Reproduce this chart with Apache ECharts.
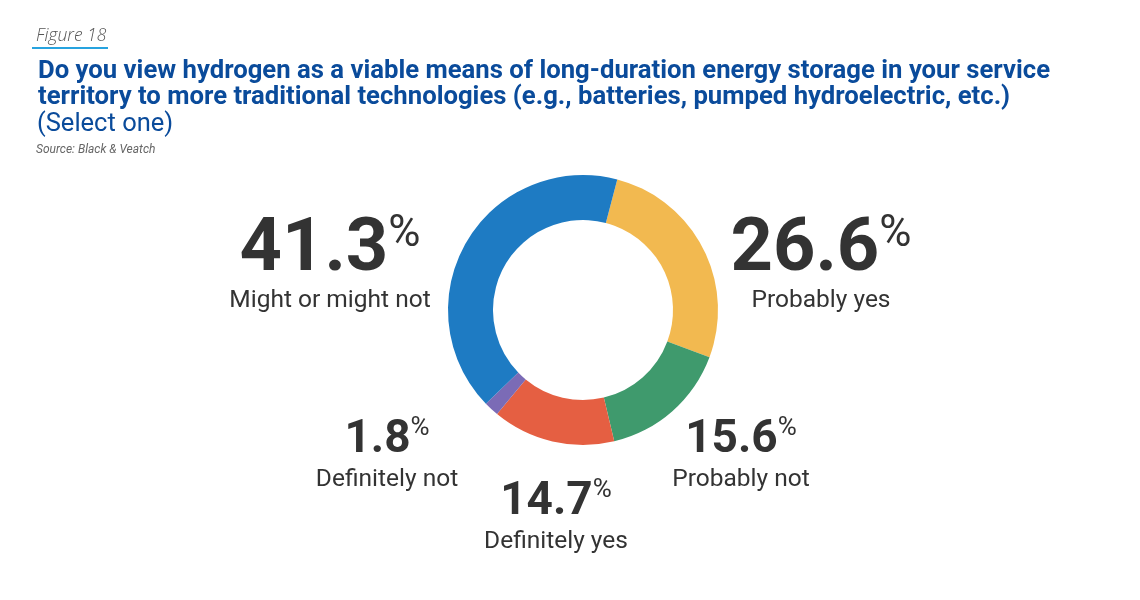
<!DOCTYPE html>
<html>
<head>
<meta charset="utf-8">
<script src="https://cdn.jsdelivr.net/npm/echarts@6/dist/echarts.min.js"></script>
<style>
html,body{margin:0;padding:0;background:#fff;}
#chart{width:1140px;height:600px;}
</style>
</head>
<body>
<div id="chart"></div>
<script>
// ---- data ----
const categories = ['Probably yes', 'Probably not', 'Definitely yes', 'Definitely not', 'Might or might not'];
const values = [26.6, 15.6, 14.7, 1.8, 41.3];
const sliceColors = ['#f2b950', '#3f9a6d', '#e55f42', '#7b6bb6', '#1e7bc3'];

const figureLabel = 'Figure 18';
const titleLines = [
  'Do you view hydrogen as a viable means of long-duration energy storage in your service',
  'territory to more traditional technologies (e.g., batteries, pumped hydroelectric, etc.)'
];
const subtitle = '(Select one)';
const sourceText = 'Source: Black & Veatch';

// ---- layout (positions / sizes kept apart from data) ----
const labelSpots = [[821, 213, 'L'], [741, 415, 'S'], [556, 477, 'S'], [387, 415, 'S'], [330, 213, 'L']];

const chart = echarts.init(document.getElementById('chart'), null, {renderer: 'canvas'});
const FONT = 'Roboto, "Noto Sans", sans-serif';

chart.setOption({
  backgroundColor: '#ffffff',
  animation: false,
  color: sliceColors,
  graphic: [
    {type: 'text', left: 36, top: 27, style: {text: figureLabel, font: 'italic 300 17.5px "Open Sans", Roboto, sans-serif', fill: '#555'}},
    {type: 'rect', shape: {x: 32, y: 47, width: 76, height: 2}, style: {fill: '#27a3df'}},
    {type: 'text', left: 38, top: 59, style: {text: titleLines[0], font: 'bold 25.7px ' + FONT, fill: '#0a4b9b'}},
    {type: 'text', left: 38, top: 85, style: {text: titleLines[1], font: 'bold 25.7px ' + FONT, fill: '#0a4b9b'}},
    {type: 'text', left: 37, top: 112, style: {text: subtitle, font: '25.5px ' + FONT, fill: '#0a4b9b'}},
    {type: 'text', left: 36, top: 144, style: {text: sourceText, font: 'italic 12px ' + FONT, fill: '#666'}}
  ],
  series: [{
    type: 'pie',
    center: [583, 310],
    radius: [90, 135],
    startAngle: 75.3,
    clockwise: true,
    avoidLabelOverlap: false,
    itemStyle: {borderWidth: 0},
    labelLine: {show: false},
    label: {
      show: true,
      position: 'outside',
      color: '#333',
      fontFamily: FONT,
      formatter: function (p) {
        const s = labelSpots[p.dataIndex][2];
        return '{num' + s + '|' + p.value.toFixed(1) + '}{pct' + s + '|%}\n{name' + s + '|' + p.name + '}';
      },
      rich: {
        numL: {fontSize: 74, fontWeight: 'bold', lineHeight: 76, color: '#333', fontFamily: FONT},
        pctL: {fontSize: 44, fontWeight: 'normal', lineHeight: 64, verticalAlign: 'top', color: '#333', fontFamily: FONT},
        nameL: {fontSize: 24.5, lineHeight: 23, color: '#333', fontFamily: FONT},
        numS: {fontSize: 46, fontWeight: 'bold', lineHeight: 50, color: '#333', fontFamily: FONT},
        pctS: {fontSize: 26, fontWeight: 'normal', lineHeight: 41, verticalAlign: 'top', color: '#333', fontFamily: FONT},
        nameS: {fontSize: 24.5, lineHeight: 29, color: '#333', fontFamily: FONT}
      }
    },
    labelLayout: function (params) {
      const s = labelSpots[params.dataIndex];
      return {x: s[0], y: s[1], align: 'center', verticalAlign: 'top'};
    },
    emphasis: {disabled: true},
    data: categories.map(function (c, i) { return {name: c, value: values[i]}; })
  }]
});
</script>
</body>
</html>
